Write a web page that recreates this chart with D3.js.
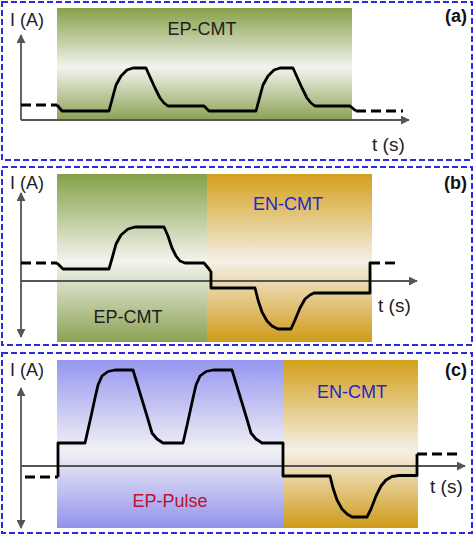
<!DOCTYPE html>
<html lang="en">
	<head>
		<meta charset="utf-8">
		<title>CMT current waveforms</title>
		<script src="https://d3js.org/d3.v7.min.js"></script>
		<style>
			body{
				margin: 0;
				background: #ffffff;
			}
			text{
				font-family: 'Liberation Sans', Arial, sans-serif;
			}
		</style>
	</head>
	<body>
		<script>
			//Width and height
			var w = 474;
			var h = 535;

			//Panel (a): EP-CMT only
			var aT = [9, 10.25, 22, 23, 23.75, 25, 26.5, 28, 31.25, 32.25, 33.5, 34.75, 35.75, 36.75, 45.75, 47,
					  58.75, 59.75, 60.5, 61.75, 63.25, 64.75, 68, 69, 70.25, 71.5, 72.5, 73.5, 82.25, 83.75];
			var aI = [1.5, 0.9, 0.9, 2.4, 3.5, 4.4, 5.0, 5.2, 5.2, 4.3, 3.2, 2.2, 1.7, 1.4, 1.4, 0.9,
					  0.9, 2.4, 3.5, 4.4, 5.0, 5.2, 5.2, 4.3, 3.2, 2.2, 1.7, 1.4, 1.4, 0.9];
			var aLeadT = [0, 9],       aLeadI = [1.5, 1.5];
			var aTailT = [83.75, 95.5], aTailI = [0.9, 0.9];

			//Panel (b): EP-CMT then EN-CMT
			var bT = [9, 10.5, 22, 23, 23.75, 25, 26.75, 28.5, 35.75, 36.75, 37.75, 38.75, 39.75, 41,
					  45.75, 47, 47.5, 47.5, 58.5, 59.25, 60.25, 61.5, 62.75, 64.25,
					  67.5, 68.5, 69.75, 71, 72.25, 73.25, 87.25, 87.25, 89.75];
			var bI = [1.8, 1.2, 1.2, 2.6, 3.7, 4.6, 5.2, 5.4, 5.4, 4.5, 3.3, 2.5, 2.0, 1.8,
					  1.8, 1.2, 0.9, -0.7, -0.7, -1.9, -3.1, -4.0, -4.5, -4.8,
					  -4.8, -3.9, -2.7, -1.8, -1.4, -1.2, -1.2, 1.8, 1.8];
			var bLeadT = [0, 9],     bLeadI = [1.8, 1.8];
			var bTailT = [91, 94.5], bTailI = [1.8, 1.8];

			//Panel (c): EP-Pulse then EN-CMT
			var cT = [9.25, 9.25, 16, 17.25, 18.5, 19.25, 20.25, 21.75, 23.5, 28, 29.75, 31.5, 32.75, 34, 35.5,
					  40.5, 41.75, 43, 43.75, 44.75, 46.25, 48, 52.75, 54.5, 56.25, 57.5, 58.75, 60.25,
					  65.5, 65.5, 77.25, 78, 79, 80.25, 81.5, 82.75, 86.5, 87.5, 88.75, 90, 91.25, 92.75, 94.5, 99, 99];
			var cI = [-1.1, 2.3, 2.3, 4.5, 6.8, 8.1, 9.0, 9.45, 9.6, 9.6, 7.3, 5.0, 3.3, 2.7, 2.3,
					  2.3, 4.5, 6.8, 8.1, 9.0, 9.45, 9.6, 9.6, 7.3, 5.0, 3.3, 2.7, 2.3,
					  2.3, -1.0, -1.0, -2.2, -3.4, -4.3, -4.8, -5.1, -5.1, -4.3, -3.0, -2.0, -1.4, -1.05, -0.95, -0.95, 1.2];
			var cLeadT = [1, 9.25],     cLeadI = [-1.1, -1.1];
			var cTailT = [99, 110.25], cTailI = [1.2, 1.2];

			//Process phases (time spans) and their labels
			var phaseNames = ["EP-CMT", "EP-CMT", "EN-CMT", "EP-Pulse", "EN-CMT"];
			var phaseStart = [9, 9, 46.5, 9, 65.5];
			var phaseEnd   = [82.75, 46.5, 87.75, 65.5, 99.25];
			var phaseFill  = ["green", "green", "gold", "blue", "gold"];
			var phasePanel = [0, 1, 1, 2, 2];

			var panelLabels = ["(a)", "(b)", "(c)"];
			var axisTitleY = "I (A)";
			var axisTitleX = "t (s)";

			//Layout of the three panels
			var panels = [
				{ top: 2,   bottom: 160, zeroY: 120, iTop: 11.2, iBot: 0,    xEnd: 97,  yUp: 8.5, yDown: null,
				  capY: 26, tx: 372, ty: 151 },
				{ top: 167, bottom: 345, zeroY: 281, iTop: 10.7, iBot: -6.1, xEnd: 99,  yUp: 8.8, yDown: -5.6,
				  capY: 189, tx: 378, ty: 312 },
				{ top: 353, bottom: 533, zeroY: 466, iTop: 10.6, iBot: -6.2, xEnd: 111, yUp: 7.8, yDown: -6.2,
				  capY: 376, tx: 430, ty: 493 }
			];
			var phaseText = [
				{ x: 202, y: 35,  color: "#222222" },
				{ x: 128, y: 323, color: "#1e1e1e" },
				{ x: 288, y: 210, color: "#2626c8" },
				{ x: 170, y: 507, color: "#b8142c" },
				{ x: 352, y: 398, color: "#2626c8" }
			];

			var curves = [
				{ t: aT, i: aI, lead: [aLeadT, aLeadI], tail: [aTailT, aTailI] },
				{ t: bT, i: bI, lead: [bLeadT, bLeadI], tail: [bTailT, bTailI] },
				{ t: cT, i: cI, lead: [cLeadT, cLeadI], tail: [cTailT, cTailI] }
			];

			//Shared time scale
			var xScale = d3.scaleLinear()
						   .domain([0, 100])
						   .range([21, 421]);

			//Create SVG element
			var svg = d3.select("body")
						.append("svg")
						.attr("width", w)
						.attr("height", h);

			var defs = svg.append("defs");

			//vertical gradients: colour at top and bottom, white band in the middle
			var grads = {
				green: ["#85a047", "#f3f4ef", "#8ba254"],
				gold:  ["#d3a01c", "#f5f0e6", "#cf9a18"],
				blue:  ["#9696f0", "#f1f1f5", "#9292ee"]
			};
			var mids = [0.53, 0.52, 0.54];
			panels.forEach(function(p, k) {
				Object.keys(grads).forEach(function(name) {
					var g = defs.append("linearGradient")
								.attr("id", "g-" + name + "-" + k)
								.attr("x1", 0).attr("y1", 0)
								.attr("x2", 0).attr("y2", 1);
					g.append("stop").attr("offset", 0).attr("stop-color", grads[name][0]);
					g.append("stop").attr("offset", mids[k]).attr("stop-color", grads[name][1]);
					g.append("stop").attr("offset", 1).attr("stop-color", grads[name][2]);
				});
			});

			//arrow head for the axes
			defs.append("marker")
				.attr("id", "arrow")
				.attr("viewBox", "0 0 10 10")
				.attr("refX", 9)
				.attr("refY", 5)
				.attr("markerWidth", 5)
				.attr("markerHeight", 5)
				.attr("orient", "auto-start-reverse")
				.append("path")
				.attr("d", "M0,0 L10,5 L0,10 Z")
				.attr("fill", "#555555");

			panels.forEach(function(p, k) {
				var yScale = d3.scaleLinear()
							   .domain([0, 1])
							   .range([p.zeroY, p.zeroY - 10]);

				var line = d3.line()
							 .x(function(d) { return xScale(d[0]); })
							 .y(function(d) { return yScale(d[1]); });

				var g = svg.append("g");

				//BACKGROUND PHASES
				phasePanel.forEach(function(pp, j) {
					if (pp !== k) return;
					g.append("rect")
					 .attr("x", xScale(phaseStart[j]))
					 .attr("y", yScale(p.iTop))
					 .attr("width", xScale(phaseEnd[j]) - xScale(phaseStart[j]))
					 .attr("height", yScale(p.iBot) - yScale(p.iTop))
					 .attr("fill", "url(#g-" + phaseFill[j] + "-" + k + ")");
				});

				//AXES
				g.append("line")
				 .attr("x1", xScale(0)).attr("y1", yScale(0))
				 .attr("x2", xScale(p.xEnd)).attr("y2", yScale(0))
				 .attr("stroke", "#555555")
				 .attr("stroke-width", 1.8)
				 .attr("marker-end", "url(#arrow)");

				var yAxis = g.append("line")
							 .attr("x1", xScale(0)).attr("y1", yScale(p.yDown === null ? 0 : p.yDown))
							 .attr("x2", xScale(0)).attr("y2", yScale(p.yUp))
							 .attr("stroke", "#555555")
							 .attr("stroke-width", 1.8)
							 .attr("marker-end", "url(#arrow)");
				if (p.yDown !== null) yAxis.attr("marker-start", "url(#arrow)");

				//CURRENT WAVEFORM
				var c = curves[k];
				g.append("path")
				 .datum(c.t.map(function(t, n) { return [t, c.i[n]]; }))
				 .attr("d", line)
				 .attr("fill", "none")
				 .attr("stroke", "#000000")
				 .attr("stroke-width", 2.8)
				 .attr("stroke-linejoin", "round");

				[c.lead, c.tail].forEach(function(seg) {
					g.append("path")
					 .datum(seg[0].map(function(t, n) { return [t, seg[1][n]]; }))
					 .attr("d", line)
					 .attr("fill", "none")
					 .attr("stroke", "#000000")
					 .attr("stroke-width", 2.8)
					 .attr("stroke-dasharray", "10,5");
				});

				//LABELS
				g.append("text")
				 .attr("x", 10)
				 .attr("y", p.capY)
				 .attr("font-size", "18px")
				 .attr("fill", "#222222")
				 .text(axisTitleY);

				g.append("text")
				 .attr("x", 467)
				 .attr("y", p.capY - (k === 0 ? 4 : 0))
				 .attr("text-anchor", "end")
				 .attr("font-size", "18px")
				 .attr("font-weight", "bold")
				 .attr("fill", "#111111")
				 .text(panelLabels[k]);

				g.append("text")
				 .attr("x", p.tx)
				 .attr("y", p.ty)
				 .attr("font-size", "19px")
				 .attr("fill", "#222222")
				 .text(axisTitleX);

				//dashed blue frame
				g.append("rect")
				 .attr("x", 2)
				 .attr("y", p.top)
				 .attr("width", 470)
				 .attr("height", p.bottom - p.top)
				 .attr("fill", "none")
				 .attr("stroke", "#2a2ae0")
				 .attr("stroke-width", 2)
				 .attr("stroke-dasharray", "6,3");
			});

			//PHASE NAMES
			svg.selectAll("text.phase")
			   .data(phaseNames)
			   .enter()
			   .append("text")
			   .attr("class", "phase")
			   .attr("x", function(d, j) { return phaseText[j].x; })
			   .attr("y", function(d, j) { return phaseText[j].y; })
			   .attr("text-anchor", "middle")
			   .attr("font-size", "18px")
			   .attr("fill", function(d, j) { return phaseText[j].color; })
			   .text(function(d) { return d; });
		</script>
	</body>
</html>
